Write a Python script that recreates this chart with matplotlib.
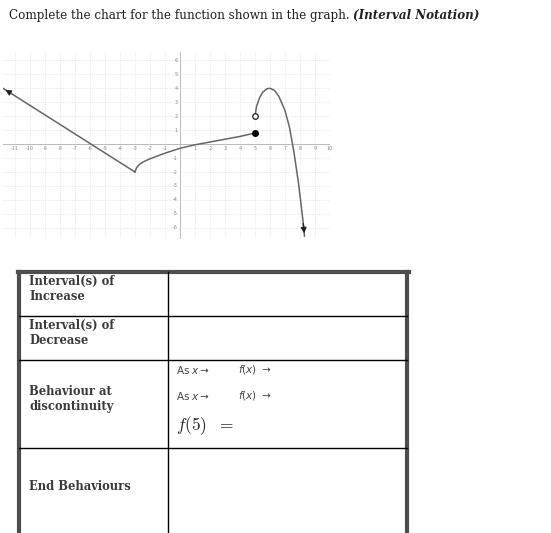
import matplotlib
matplotlib.use('Agg')
import matplotlib.pyplot as plt

# graph data
line_x = [-11.8, -3]
line_y = [4.0, -2.0]
curve_x = [-3, -2.9, -2.7, -2.4, -2, -1.5, -1, 0, 1, 2, 3, 4, 5]
curve_y = [-2.0, -1.7, -1.45, -1.25, -1.05, -0.85, -0.65, -0.3, -0.05, 0.15, 0.35, 0.55, 0.8]
para_x = [5, 5.1, 5.3, 5.5, 5.8, 6, 6.3, 6.6, 7, 7.3, 7.6, 7.9, 8.2, 8.3]
para_y = [2.0, 2.7, 3.3, 3.7, 3.97, 4.0, 3.85, 3.4, 2.4, 1.2, -0.6, -2.8, -5.5, -6.6]
xticks = [-11, -10, -9, -8, -7, -6, -5, -4, -3, -2, -1, 1, 2, 3, 4, 5, 6, 7, 8, 9, 10]
yticks = [-6, -5, -4, -3, -2, -1, 1, 2, 3, 4, 5, 6]

row_labels = ['Interval(s) of\nIncrease', 'Interval(s) of\nDecrease',
              'Behaviour at\ndiscontinuity', 'End Behaviours']
row_edges = [272, 316, 360, 448, 533]

W, H = 551, 533
fig = plt.figure(figsize=(W / 100, H / 100), dpi=100)
base = fig.add_axes([0, 0, 1, 1])
base.set_xlim(0, W)
base.set_ylim(H, 0)
base.axis('off')

# title
t1 = base.text(9, 15, 'Complete the chart for the function shown in the graph. ',
               family='DejaVu Serif', fontsize=8.6, va='center', color='#222222')
fig.canvas.draw()
bb = t1.get_window_extent()
base.text(bb.x1, H - 15, '(Interval Notation)', transform=None,
          family='DejaVu Serif', fontsize=8.6, va='center',
          weight='bold', style='italic', color='#222222')

# graph
def px(x0, y0, x1, y1):
    return [x0 / W, 1 - y1 / H, (x1 - x0) / W, (y1 - y0) / H]

ax = fig.add_axes(px(3, 52, 330, 239))
ax.set_xlim(-11.8, 10.0)
ax.set_ylim(-6.8, 6.6)
for s in ax.spines.values():
    s.set_visible(False)
ax.set_xticks(range(-11, 11))
ax.set_yticks(range(-6, 7))
ax.grid(True, color='#dddddd', linestyle=':', linewidth=0.6)
ax.tick_params(length=0, labelbottom=False, labelleft=False)
ax.axhline(0, color='#bbbbbb', lw=0.7)
ax.axvline(0, color='#bbbbbb', lw=0.7)
for v in xticks:
    ax.text(v, -0.35, str(v), fontsize=3.5, color='#888888', ha='center', va='center')
for v in yticks:
    ax.text(-0.15, v, str(v), fontsize=3.5, color='#888888', ha='right', va='center')

gc = '#666666'
ax.plot(line_x, line_y, color=gc, lw=1.1)
ax.plot(curve_x, curve_y, color=gc, lw=1.1)
ax.plot(para_x, para_y, color=gc, lw=1.1)
ax.annotate('', xy=(line_x[0], line_y[0]), xytext=(line_x[0] + 0.6, line_y[0] - 0.4),
            arrowprops=dict(arrowstyle='-|>', color='#222222', lw=1, mutation_scale=8))
ax.annotate('', xy=(para_x[-1], para_y[-1]), xytext=(para_x[-2], para_y[-2]),
            arrowprops=dict(arrowstyle='-|>', color='#222222', lw=1, mutation_scale=8))
ax.plot([5], [0.8], 'o', color='black', ms=4)
ax.plot([5], [2.0], 'o', mfc='white', mec='#333333', ms=4, mew=1)

# table
L, M, R = 19, 168, 407
base.plot([L, L], [row_edges[0], H], color='#4d4d4d', lw=3)
base.plot([R, R], [row_edges[0], H], color='#4d4d4d', lw=3)
base.plot([L - 1.5, R + 1.5], [row_edges[0], row_edges[0]], color='#4d4d4d', lw=3)
base.plot([M, M], [row_edges[0], H], color='black', lw=1)
for y in row_edges[1:-1]:
    base.plot([L, R], [y, y], color='black', lw=1)

label_y = [289, 333, 399, 487]
for lab, y in zip(row_labels, label_y):
    base.text(29, y, lab, family='DejaVu Serif', weight='bold', fontsize=8.3,
              va='center', ha='left', color='#3a3a3a', linespacing=1.2)

sans = dict(family='DejaVu Sans', fontsize=7.5, color='#444444', va='center')
for y in [370, 396]:
    base.text(176, y, r'As $x \rightarrow$', **sans)
    base.text(238, y, r'$f(x)$ $\rightarrow$', **sans)
base.text(176, 426, r'$f(5)\ \ =$', fontsize=12.5, va='center', color='#222222',
          math_fontfamily='cm')

fig.savefig('out.png', dpi=100)
